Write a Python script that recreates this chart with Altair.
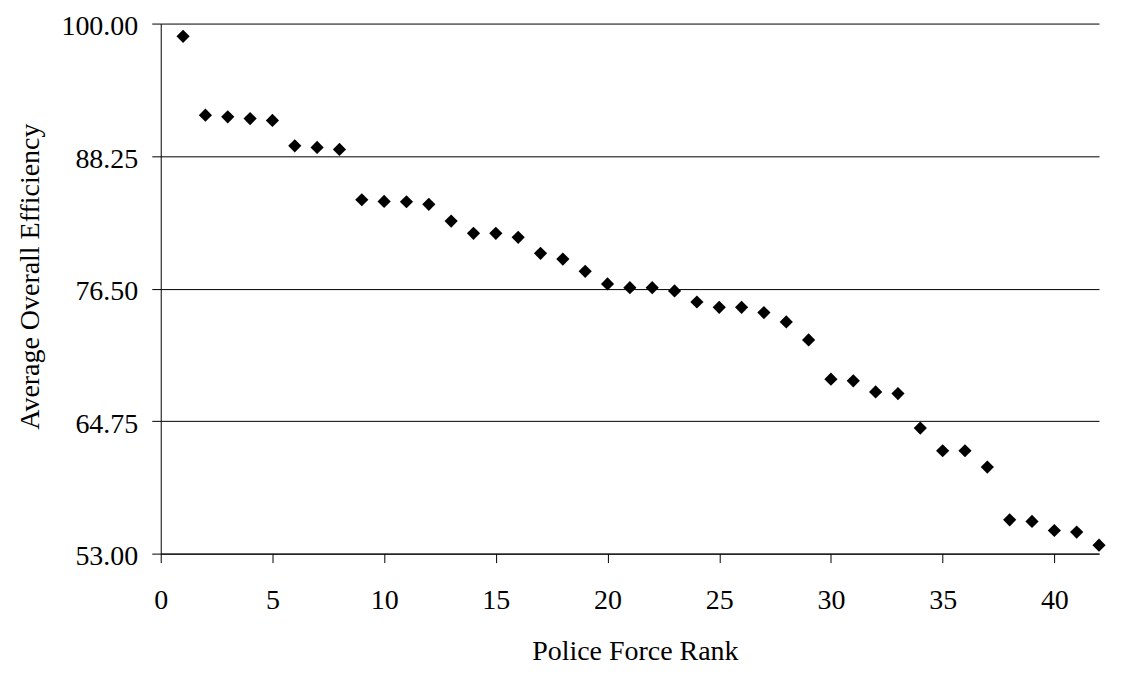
import altair as alt
import pandas as pd

ranks = list(range(1, 43))
efficiency = [
    98.87, 91.88, 91.73, 91.58, 91.41, 89.16, 89.02, 88.84, 84.38, 84.23,
    84.20, 83.97, 82.49, 81.40, 81.40, 81.05, 79.63, 79.12, 78.03, 76.91,
    76.58, 76.58, 76.29, 75.31, 74.84, 74.84, 74.37, 73.54, 71.95, 68.47,
    68.32, 67.34, 67.19, 64.13, 62.12, 62.12, 60.67, 56.00, 55.85, 55.05,
    54.91, 53.75,
]
x_ticks = [0, 5, 10, 15, 20, 25, 30, 35, 40]
y_ticks = [53.00, 64.75, 76.50, 88.25, 100.00]

df = pd.DataFrame({"rank": ranks, "eff": efficiency})

FONT = "Liberation Serif"

chart = alt.Chart(df).mark_point(
    shape="diamond", filled=True, color="black", size=175, opacity=1
).encode(
    x=alt.X(
        "rank:Q",
        scale=alt.Scale(domain=[0, 42], nice=False, zero=False),
        axis=alt.Axis(
            values=x_ticks, title="Police Force Rank", grid=False,
            tickSize=9, tickColor="black", domainColor="black",
            labelFont=FONT, labelFontSize=28, labelColor="black",
            labelPadding=24, labelFlush=False,
            titleFont=FONT, titleFontSize=28, titleFontWeight="normal",
            titleColor="black", titleBaseline="alphabetic", titleY=106,
            titleX=475,
        ),
    ),
    y=alt.Y(
        "eff:Q",
        scale=alt.Scale(domain=[53, 100], nice=False, zero=False),
        axis=alt.Axis(
            values=y_ticks, format=".2f", title="Average Overall Efficiency",
            grid=True, gridColor="black", gridWidth=1, gridOpacity=1,
            tickSize=9, tickColor="black", domainColor="black",
            labelFont=FONT, labelFontSize=28, labelColor="black",
            labelPadding=14, labelOffset=3,
            titleFont=FONT, titleFontSize=28, titleFontWeight="normal",
            titleColor="black", titleAngle=270, titleBaseline="alphabetic",
            titleAlign="center", titleX=-122, titleY=253,
        ),
    ),
).properties(
    width=940, height=531,
    background="white",
    autosize=alt.AutoSizeParams(type="none"),
    padding={"left": 153, "top": 15, "right": 15, "bottom": 120},
).configure_view(stroke=None, strokeWidth=0)

chart.save("out.html", embed_options={"renderer": "svg", "actions": False})
